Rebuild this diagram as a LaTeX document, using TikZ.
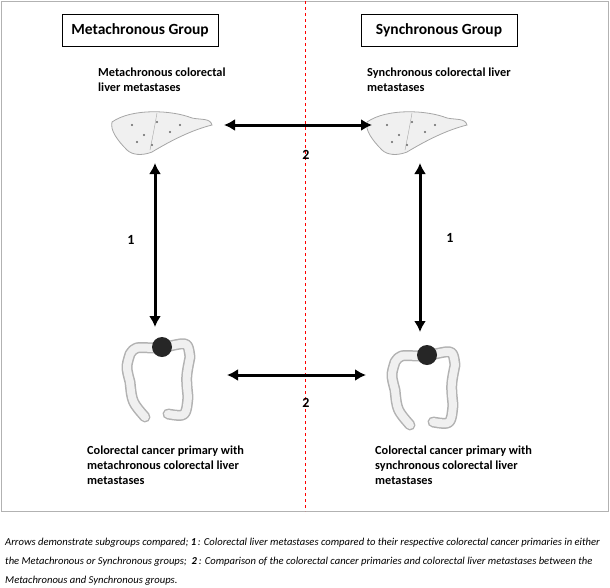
\documentclass[tikz,border=0pt]{standalone}
\usepackage{fontspec}
\setmainfont{Carlito}
\usetikzlibrary{arrows.meta}
\begin{document}
\begin{tikzpicture}[x=1pt,y=-1pt,
  title/.style={draw,line width=1pt,minimum width=156pt,minimum height=32pt,font=\bfseries\fontsize{15.5}{17}\selectfont},
  lbl/.style={align=left,anchor=north west,font=\bfseries\fontsize{12.3}{15}\selectfont,inner sep=0},
  num/.style={font=\bfseries\fontsize{14}{16}\selectfont},
  dbl/.style={{Latex[length=11pt,width=12pt]}-{Latex[length=11pt,width=12pt]},line width=3pt},
  liver/.style={fill=gray!12,draw=gray!70,line width=0.8pt},
  colon/.style={draw=gray!60,line width=11pt,line cap=round,line join=round},
  colin/.style={draw=gray!12,line width=8pt,line cap=round,line join=round}]
\useasboundingbox (0,0) rectangle (610,587);
\draw[gray!60] (1,1) rectangle (608,511);
\draw[red,dashed,line width=1pt] (305,1) -- (305,511);
\node[title] (tm) at (140,30) {Metachronous Group};
\node[title] (ts) at (439,30) {Synchronous Group};
\node[lbl] (lm) at (98,68) {Metachronous colorectal\\liver metastases};
\node[lbl] (ls) at (367,68) {Synchronous colorectal liver\\metastases};
% livers
\foreach \cx/\n in {162/lv1,417/lv2}{
  \begin{scope}[shift={(\cx,130)}]
  \draw[liver] (-50,-8) .. controls (-30,-22) and (10,-20) .. (30,-12)
     .. controls (40,-10) and (48,-12) .. (50,-5)
     .. controls (30,0) and (10,10) .. (-10,22)
     .. controls (-20,26) and (-30,25) .. (-35,20)
     .. controls (-45,10) and (-52,0) .. (-50,-8) -- cycle;
  \draw[gray!70] (-5,-17) .. controls (-8,0) .. (-12,20);
  \foreach \px/\py in {-30/-5,-18/5,-5/-8,8/2,-25/12,18/-5,-10/15}
    \fill[gray!80!black] (\px,\py) circle (1.1);
  \end{scope}
  \coordinate (\n) at (\cx,130);}
% colons
\foreach \cx/\cy/\n in {160/372/co1,425/380/co2}{
  \begin{scope}[shift={(\cx,\cy)}]
  \draw[colon] (-15,45) .. controls (-28,30) .. (-30,10) .. controls (-34,-5) .. (-30,-18) .. controls (-25,-25) .. (-8,-24) -- (10,-26) .. controls (28,-30) .. (30,-15) .. controls (26,5) .. (28,25) .. controls (26,45) .. (8,42);
  \draw[colin] (-15,45) .. controls (-28,30) .. (-30,10) .. controls (-34,-5) .. (-30,-18) .. controls (-25,-25) .. (-8,-24) -- (10,-26) .. controls (28,-30) .. (30,-15) .. controls (26,5) .. (28,25) .. controls (26,45) .. (8,42);
  \fill[black!85] (2,-25) circle (10);
  \end{scope}
  \coordinate (\n) at (\cx,\cy);}
\coordinate (h1a) at (224,125); \coordinate (h1b) at (372,125);
\coordinate (h2a) at (227,375); \coordinate (h2b) at (366,375);
\coordinate (v1a) at (155,163); \coordinate (v1b) at (155,327);
\coordinate (v2a) at (420,163); \coordinate (v2b) at (420,332);
\draw[dbl] (h1a) -- (h1b);
\draw[dbl] (h2a) -- (h2b);
\draw[dbl] (v1a) -- (v1b);
\draw[dbl] (v2a) -- (v2b);
\node[num] (n1) at (306,155) {2};
\node[num] (n2) at (306,403) {2};
\node[num] (n3) at (131,240) {1};
\node[num] (n4) at (450,238) {1};
\node[lbl] (bm) at (87,446) {Colorectal cancer primary with\\metachronous colorectal liver\\metastases};
\node[lbl] (bs) at (375,446) {Colorectal cancer primary with\\synchronous colorectal liver\\metastases};
\node[anchor=north west,align=left,inner sep=0,font=\itshape\fontsize{10.6}{19}\selectfont] (cap) at (5,538)
{Arrows demonstrate subgroups compared; \textbf{1}\,: Colorectal liver metastases compared to their respective colorectal cancer primaries in either\\
the Metachronous or Synchronous groups; \ \textbf{2}\,: Comparison of the colorectal cancer primaries and colorectal liver metastases between the\\
Metachronous and Synchronous groups.};
\end{tikzpicture}
\end{document}
